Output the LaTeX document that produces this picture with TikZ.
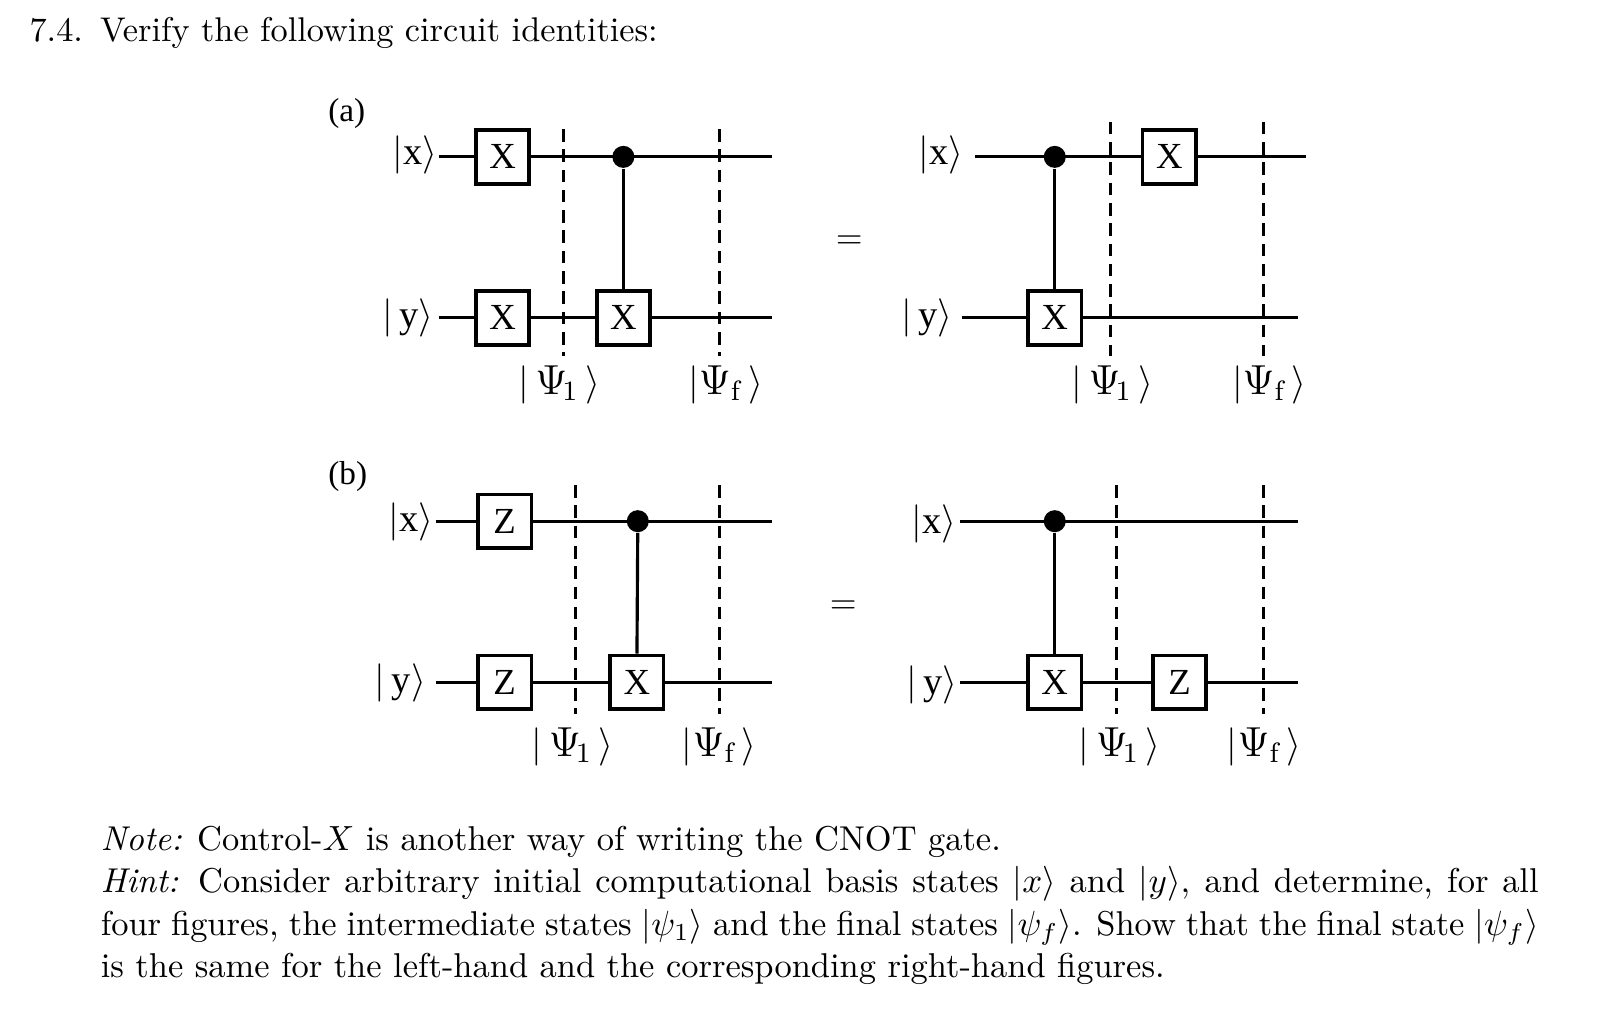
\documentclass[tikz,border=0pt]{standalone}
\usepackage{fontspec}
\newfontfamily\circfont{Liberation Serif}
\begin{document}
\begin{tikzpicture}[x=0.295pt,y=-0.295pt,
  wire/.style={line width=0.9pt},
  gate/.style={draw,line width=1.1pt,fill=white,minimum size=15.3pt,inner sep=0pt,font=\circfont\fontsize{10.5}{12}\selectfont},
  ctrl/.style={circle,fill=black,inner sep=0pt,minimum size=6.3pt},
  barrier/.style={line width=0.9pt,dash pattern=on 3.6pt off 2.2pt},
  ket/.style={inner sep=0pt,font=\circfont\fontsize{11}{12}\selectfont},
  lab/.style={inner sep=0pt,font=\fontsize{9.85}{12.1}\selectfont}]
\useasboundingbox (0,0) rectangle (1560,988);
\newcommand{\kx}{$\bigl|$x$\bigr\rangle$}
\newcommand{\ky}{$\bigl|$\,y$\bigr\rangle$}
\newcommand{\kp}{$\bigl|$\,{\fontsize{12}{12}\selectfont$\Psi_{\!1}$}\,$\bigr\rangle$}
\newcommand{\kf}{$\bigl|${\fontsize{12}{12}\selectfont$\Psi_{\rm f}$}\,$\bigr\rangle$}
\node[anchor=base west,lab,font=\fontsize{9.8}{12}\selectfont] (title) at (28,40) {7.4.\enspace Verify the following circuit identities:};
% (a) left
\node[lab,font=\circfont\fontsize{9.5}{12}\selectfont] (la) at (336,110) {(a)};
\node[ket] (ax) at (402,150) {\kx};
\node[ket] (ay) at (395,308) {\ky};
\coordinate (a1s) at (425,152); \coordinate (a1e) at (748,152);
\coordinate (a2s) at (425,308); \coordinate (a2e) at (748,308);
\draw[wire] (a1s) -- (a1e); \draw[wire] (a2s) -- (a2e);
\coordinate (ad1t) at (546,125); \coordinate (ad1b) at (546,345);
\coordinate (ad2t) at (697,125); \coordinate (ad2b) at (697,345);
\draw[barrier] (ad1t) -- (ad1b); \draw[barrier] (ad2t) -- (ad2b);
\node[gate] (ag1) at (487,152) {X};
\node[gate] (ag2) at (487,308) {X};
\node[gate] (ag3) at (604,308) {X};
\node[ctrl] (ac) at (604,152) {};
\draw[wire] (ac) -- (ag3);
\node[ket] (ap1) at (542,372) {\kp};
\node[ket] (apf) at (703,372) {\kf};
\node[lab] (eqa) at (823,235) {=};
% (a) right
\node[ket] (bx) at (912,150) {\kx};
\node[ket] (by) at (898,308) {\ky};
\coordinate (b1s) at (945,152); \coordinate (b1e) at (1265,152);
\coordinate (b2s) at (932,308); \coordinate (b2e) at (1258,308);
\draw[wire] (b1s) -- (b1e); \draw[wire] (b2s) -- (b2e);
\coordinate (bd1t) at (1076,118); \coordinate (bd1b) at (1076,345);
\coordinate (bd2t) at (1224,118); \coordinate (bd2b) at (1224,345);
\draw[barrier] (bd1t) -- (bd1b); \draw[barrier] (bd2t) -- (bd2b);
\node[gate] (bg1) at (1022,308) {X};
\node[gate] (bg2) at (1133,152) {X};
\node[ctrl] (bc) at (1022,152) {};
\draw[wire] (bc) -- (bg1);
\node[ket] (bp1) at (1078,372) {\kp};
\node[ket] (bpf) at (1230,372) {\kf};
% (b) left
\node[lab,font=\circfont\fontsize{9.5}{12}\selectfont] (lb) at (337,462) {(b)};
\node[ket] (cx) at (398,505) {\kx};
\node[ket] (cy) at (388,661) {\ky};
\coordinate (c1s) at (422,505); \coordinate (c1e) at (748,505);
\coordinate (c2s) at (422,661); \coordinate (c2e) at (748,661);
\draw[wire] (c1s) -- (c1e); \draw[wire] (c2s) -- (c2e);
\coordinate (cd1t) at (558,470); \coordinate (cd1b) at (558,692);
\coordinate (cd2t) at (697,470); \coordinate (cd2b) at (697,692);
\draw[barrier] (cd1t) -- (cd1b); \draw[barrier] (cd2t) -- (cd2b);
\node[gate] (cg1) at (489,505) {Z};
\node[gate] (cg2) at (489,661) {Z};
\node[gate] (cg3) at (617,661) {X};
\node[ctrl] (cc) at (618,505) {};
\draw[wire] (cc) -- (cg3);
\node[ket] (cp1) at (555,723) {\kp};
\node[ket] (cpf) at (697,723) {\kf};
\node[lab] (eqb) at (817,588) {=};
% (b) right
\node[ket] (dx) at (905,507) {\kx};
\node[ket] (dy) at (903,663) {\ky};
\coordinate (d1s) at (930,505); \coordinate (d1e) at (1258,505);
\coordinate (d2s) at (930,661); \coordinate (d2e) at (1258,661);
\draw[wire] (d1s) -- (d1e); \draw[wire] (d2s) -- (d2e);
\coordinate (dd1t) at (1082,470); \coordinate (dd1b) at (1082,692);
\coordinate (dd2t) at (1224,470); \coordinate (dd2b) at (1224,692);
\draw[barrier] (dd1t) -- (dd1b); \draw[barrier] (dd2t) -- (dd2b);
\node[gate] (dg1) at (1022,661) {X};
\node[gate] (dg2) at (1143,661) {Z};
\node[ctrl] (dc) at (1022,505) {};
\draw[wire] (dc) -- (dg1);
\node[ket] (dp1) at (1085,723) {\kp};
\node[ket] (dpf) at (1225,723) {\kf};
% text
\node[anchor=north west,inner sep=0pt,text width=411pt,align=justify,lab] (txt) at (97,800)
 {\textit{Note:} Control-$X$ is another way of writing the CNOT gate.\\
 \textit{Hint:} Consider arbitrary initial computational basis states $|x\rangle$ and $|y\rangle$, and determine, for all\linebreak four figures, the intermediate states $|\psi_1\rangle$ and the final states $|\psi_f\rangle$. Show that the final state $|\psi_f\rangle$\linebreak is the same for the left-hand and the corresponding right-hand figures.};
\end{tikzpicture}
\end{document}
